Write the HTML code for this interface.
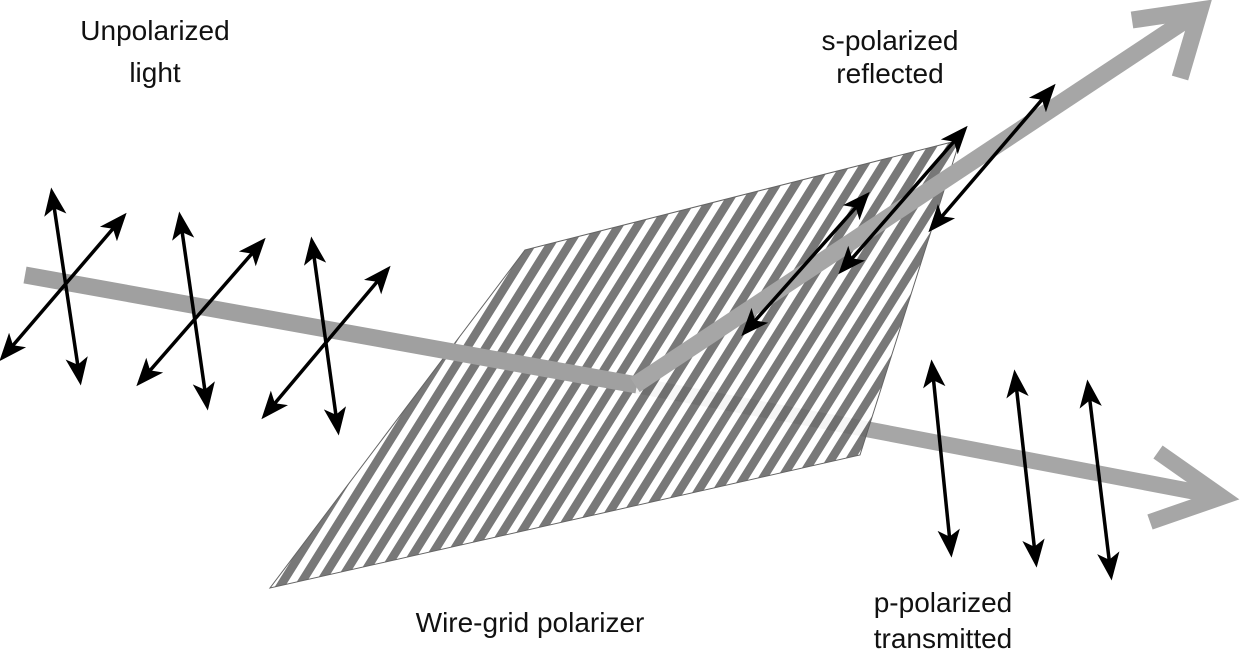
<!DOCTYPE html>
<html><head><meta charset="utf-8"><style>
html,body{margin:0;padding:0;background:#fff;}
svg{display:block}
text{font-family:"Liberation Sans",Arial,sans-serif;font-size:28px;fill:#111;}
</style></head><body>
<svg width="1240" height="656" viewBox="0 0 1240 656" xmlns="http://www.w3.org/2000/svg">
<defs>
<pattern id="st" patternUnits="userSpaceOnUse" width="16" height="40" patternTransform="rotate(32)">
<rect x="0" y="0" width="16" height="40" fill="#fff"/>
<rect x="0" y="0" width="8.5" height="40" fill="#6a6a6a"/>
</pattern>
<marker id="ah" viewBox="0 0 20 20" refX="16" refY="10" markerWidth="8" markerHeight="8" orient="auto-start-reverse" markerUnits="strokeWidth">
<path d="M0,2 L20,10 L0,18 L5,10 Z" fill="#000"/>
</marker>
</defs>
<line x1="635" y1="385" x2="1222" y2="497" stroke="#a6a6a6" stroke-width="16"/>
<polyline points="1158,452 1222,497 1150,522" fill="none" stroke="#a6a6a6" stroke-width="16" stroke-linejoin="miter"/>
<polygon points="525,250 960,140 860,455 270,588" fill="url(#st)" opacity="0.9" stroke="#555" stroke-width="1"/>
<line x1="25" y1="275" x2="637" y2="385" stroke="#a0a0a0" stroke-width="17"/>
<line x1="635" y1="385" x2="1198" y2="12" stroke="#a6a6a6" stroke-width="17"/>
<polyline points="1132,20 1200,10 1180,78" fill="none" stroke="#a6a6a6" stroke-width="17" stroke-linejoin="miter"/>
<g stroke="#000" stroke-width="3.5" fill="none" marker-start="url(#ah)" marker-end="url(#ah)">
<line x1="52" y1="193" x2="80" y2="380"/>
<line x1="123" y1="217" x2="3" y2="357"/>
<line x1="180" y1="217" x2="207" y2="405"/>
<line x1="262" y1="242" x2="140" y2="382"/>
<line x1="312" y1="242" x2="338" y2="430"/>
<line x1="387" y1="270" x2="265" y2="415"/>
<line x1="866" y1="196" x2="745" y2="332"/>
<line x1="964" y1="130" x2="842" y2="270"/>
<line x1="1052" y1="88" x2="932" y2="228"/>
<line x1="932" y1="365" x2="951" y2="552"/>
<line x1="1015" y1="375" x2="1036" y2="562"/>
<line x1="1088" y1="385" x2="1111" y2="575"/>
</g>
<text x="155" y="40" text-anchor="middle">Unpolarized</text>
<text x="155" y="82" text-anchor="middle">light</text>
<text x="890" y="50" text-anchor="middle">s-polarized</text>
<text x="890" y="83" text-anchor="middle">reflected</text>
<text x="530" y="632" text-anchor="middle">Wire-grid polarizer</text>
<text x="943" y="612" text-anchor="middle">p-polarized</text>
<text x="943" y="648" text-anchor="middle">transmitted</text>
</svg>
</body></html>
